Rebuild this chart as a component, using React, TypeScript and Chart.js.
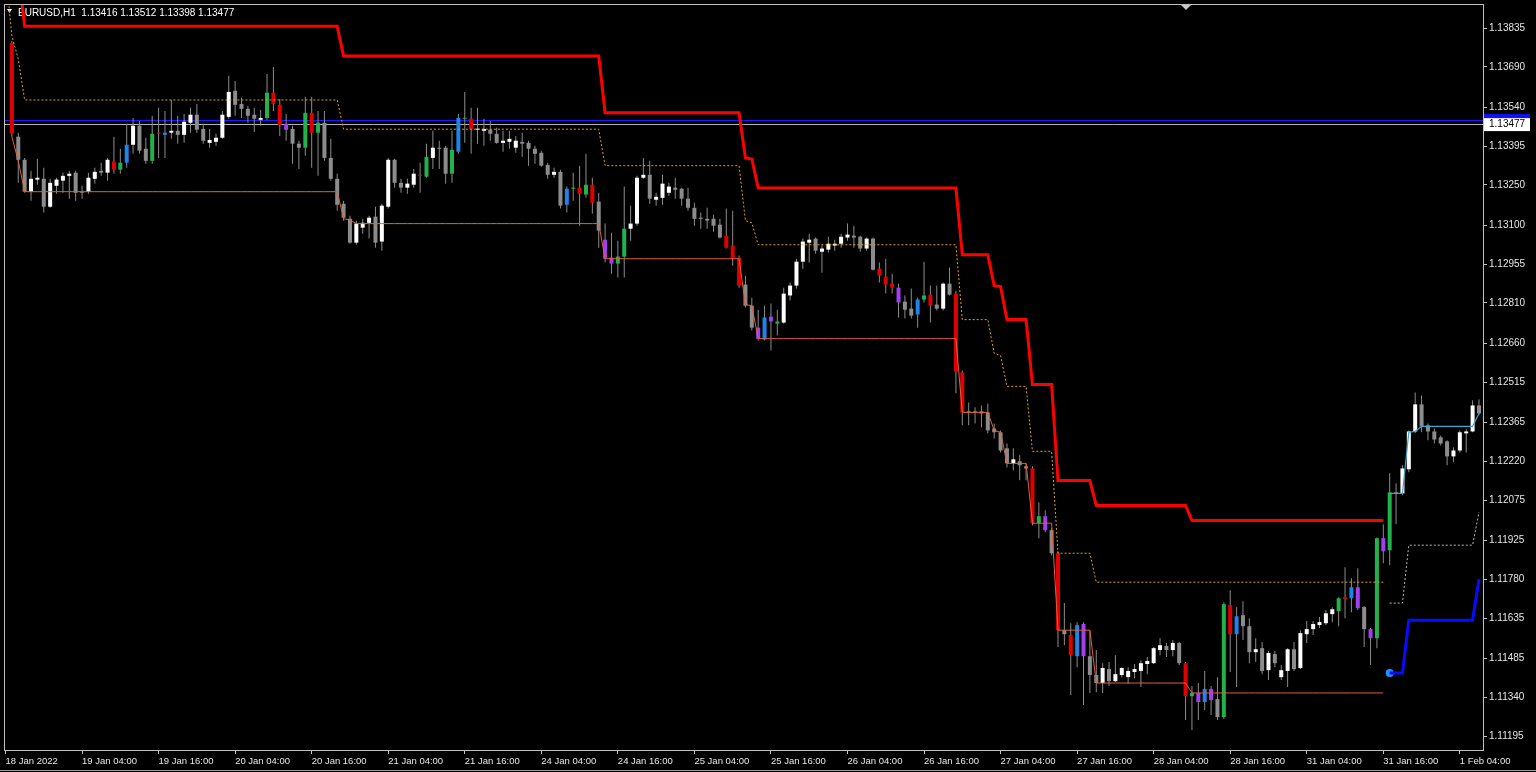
import React, { useEffect, useRef } from 'react';
import { Chart, registerables } from 'chart.js';

Chart.register(...registerables);

// ---------- data ----------
const TITLE = 'EURUSD,H1  1.13416 1.13512 1.13398 1.13477';
const FIRST_BAR = 1; // bar index of first entry in the candle arrays (bar 0 is hidden under the frame)

const opens = [
  1.13780, 1.13430, 1.13344, 1.13225, 1.13270, 1.13273, 1.13169, 1.13247, 1.13266, 1.13284,
  1.13296, 1.13225, 1.13225, 1.13273, 1.13303, 1.13296, 1.13337, 1.13307, 1.13333, 1.13400,
  1.13471, 1.13385, 1.13340, 1.13445, 1.13445, 1.13445, 1.13452, 1.13437, 1.13482, 1.13512,
  1.13459, 1.13407, 1.13411, 1.13426, 1.13504, 1.13601, 1.13552, 1.13534, 1.13512, 1.13493,
  1.13500, 1.13594, 1.13549, 1.13478, 1.13459, 1.13404, 1.13389, 1.13519, 1.13445, 1.13482,
  1.13351, 1.13273, 1.13180, 1.13124, 1.13035, 1.13091, 1.13109, 1.13132, 1.13039, 1.13169,
  1.13344, 1.13258, 1.13240, 1.13251, 1.13288, 1.13281, 1.13351, 1.13389, 1.13389, 1.13292,
  1.13374, 1.13497, 1.13497, 1.13456, 1.13452, 1.13456, 1.13441, 1.13407, 1.13411, 1.13389,
  1.13411, 1.13407, 1.13385, 1.13370, 1.13325, 1.13288, 1.13299, 1.13176, 1.13236, 1.13240,
  1.13214, 1.13251, 1.13188, 1.13046, 1.12979, 1.12957, 1.12983, 1.13087, 1.13106, 1.13277,
  1.13288, 1.13195, 1.13202, 1.13221, 1.13240, 1.13236, 1.13199, 1.13165, 1.13128, 1.13124,
  1.13124, 1.13102, 1.13061, 1.13024, 1.12979, 1.12879, 1.12800, 1.12718, 1.12674, 1.12759,
  1.12733, 1.12737, 1.12838, 1.12875, 1.12964, 1.13035, 1.13050, 1.13001, 1.13009, 1.13024,
  1.13031, 1.13054, 1.13061, 1.13057, 1.13013, 1.13050, 1.12938, 1.12908, 1.12882, 1.12867,
  1.12815, 1.12789, 1.12767, 1.12823, 1.12841, 1.12804, 1.12789, 1.12882, 1.12845, 1.12551,
  1.12406, 1.12406, 1.12406, 1.12402, 1.12342, 1.12328, 1.12268, 1.12212, 1.12220, 1.12201,
  1.12193, 1.11989, 1.12015, 1.11963, 1.11877, 1.11590, 1.11572, 1.11493, 1.11613, 1.11493,
  1.11423, 1.11393, 1.11445, 1.11400, 1.11423, 1.11415, 1.11434, 1.11438, 1.11464, 1.11467,
  1.11516, 1.11531, 1.11516, 1.11542, 1.11467, 1.11344, 1.11356, 1.11322, 1.11371, 1.11333,
  1.11266, 1.11683, 1.11575, 1.11646, 1.11605, 1.11508, 1.11523, 1.11441, 1.11501, 1.11415,
  1.11438, 1.11519, 1.11449, 1.11575, 1.11594, 1.11609, 1.11616, 1.11650, 1.11661, 1.11713,
  1.11709, 1.11750, 1.11676, 1.11594, 1.11560, 1.11933, 1.11888, 1.12104, 1.12100, 1.12190,
  1.12331, 1.12432, 1.12354, 1.12331, 1.12309, 1.12294, 1.12238, 1.12260, 1.12324, 1.12331,
  1.12428,
];

const highs = [
  1.13787, 1.13445, 1.13351, 1.13303, 1.13348, 1.13314, 1.13273, 1.13277, 1.13296, 1.13303,
  1.13303, 1.13247, 1.13296, 1.13314, 1.13333, 1.13351, 1.13430, 1.13385, 1.13478, 1.13500,
  1.13489, 1.13426, 1.13508, 1.13538, 1.13526, 1.13567, 1.13508, 1.13515, 1.13538, 1.13552,
  1.13478, 1.13459, 1.13441, 1.13526, 1.13657, 1.13638, 1.13575, 1.13545, 1.13538, 1.13530,
  1.13664, 1.13690, 1.13571, 1.13515, 1.13471, 1.13415, 1.13579, 1.13579, 1.13526, 1.13526,
  1.13422, 1.13292, 1.13191, 1.13135, 1.13117, 1.13124, 1.13135, 1.13169, 1.13180, 1.13351,
  1.13348, 1.13273, 1.13273, 1.13310, 1.13333, 1.13404, 1.13452, 1.13415, 1.13396, 1.13452,
  1.13515, 1.13597, 1.13538, 1.13538, 1.13497, 1.13489, 1.13463, 1.13452, 1.13452, 1.13433,
  1.13445, 1.13415, 1.13396, 1.13378, 1.13333, 1.13314, 1.13307, 1.13244, 1.13296, 1.13322,
  1.13366, 1.13277, 1.13221, 1.13106, 1.13072, 1.13042, 1.13244, 1.13173, 1.13284, 1.13351,
  1.13340, 1.13221, 1.13288, 1.13258, 1.13277, 1.13240, 1.13240, 1.13184, 1.13147, 1.13165,
  1.13139, 1.13124, 1.13162, 1.13154, 1.12987, 1.12912, 1.12830, 1.12785, 1.12800, 1.12808,
  1.12785, 1.12867, 1.12886, 1.12975, 1.13050, 1.13068, 1.13054, 1.13024, 1.13057, 1.13046,
  1.13068, 1.13106, 1.13098, 1.13061, 1.13054, 1.13054, 1.12961, 1.12975, 1.12919, 1.12882,
  1.12838, 1.12864, 1.12830, 1.12964, 1.12875, 1.12875, 1.12886, 1.12942, 1.12856, 1.12558,
  1.12439, 1.12421, 1.12428, 1.12435, 1.12361, 1.12335, 1.12286, 1.12268, 1.12242, 1.12212,
  1.12201, 1.12067, 1.12037, 1.11970, 1.11884, 1.11691, 1.11616, 1.11620, 1.11620, 1.11590,
  1.11516, 1.11467, 1.11471, 1.11497, 1.11452, 1.11452, 1.11464, 1.11478, 1.11490, 1.11527,
  1.11560, 1.11542, 1.11553, 1.11546, 1.11471, 1.11382, 1.11393, 1.11438, 1.11382, 1.11415,
  1.11694, 1.11739, 1.11676, 1.11698, 1.11635, 1.11560, 1.11546, 1.11512, 1.11512, 1.11460,
  1.11523, 1.11546, 1.11590, 1.11624, 1.11624, 1.11639, 1.11665, 1.11676, 1.11713, 1.11825,
  1.11784, 1.11821, 1.11680, 1.11598, 1.11936, 1.11985, 1.12175, 1.12138, 1.12205, 1.12335,
  1.12476, 1.12465, 1.12361, 1.12342, 1.12316, 1.12298, 1.12272, 1.12335, 1.12339, 1.12447,
  1.12450,
];

const lows = [
  1.13430, 1.13258, 1.13221, 1.13191, 1.13251, 1.13147, 1.13165, 1.13217, 1.13221, 1.13199,
  1.13191, 1.13199, 1.13217, 1.13255, 1.13284, 1.13266, 1.13292, 1.13292, 1.13314, 1.13366,
  1.13366, 1.13329, 1.13329, 1.13351, 1.13351, 1.13422, 1.13404, 1.13407, 1.13445, 1.13445,
  1.13404, 1.13389, 1.13396, 1.13422, 1.13497, 1.13508, 1.13500, 1.13482, 1.13448, 1.13471,
  1.13493, 1.13526, 1.13433, 1.13415, 1.13329, 1.13310, 1.13359, 1.13314, 1.13284, 1.13340,
  1.13266, 1.13154, 1.13117, 1.13031, 1.13027, 1.13068, 1.13050, 1.13016, 1.13005, 1.13162,
  1.13240, 1.13221, 1.13217, 1.13240, 1.13221, 1.13277, 1.13310, 1.13310, 1.13255, 1.13258,
  1.13366, 1.13407, 1.13366, 1.13404, 1.13396, 1.13415, 1.13404, 1.13374, 1.13385, 1.13370,
  1.13355, 1.13322, 1.13329, 1.13318, 1.13273, 1.13277, 1.13162, 1.13147, 1.13191, 1.13098,
  1.13202, 1.13143, 1.13016, 1.12961, 1.12919, 1.12905, 1.12905, 1.13042, 1.13098, 1.13273,
  1.13180, 1.13173, 1.13176, 1.13210, 1.13199, 1.13173, 1.13154, 1.13098, 1.13087, 1.13087,
  1.13076, 1.13050, 1.13013, 1.12949, 1.12867, 1.12793, 1.12707, 1.12670, 1.12670, 1.12633,
  1.12689, 1.12733, 1.12819, 1.12864, 1.12938, 1.12961, 1.12994, 1.12923, 1.12998, 1.13005,
  1.13016, 1.13042, 1.13016, 1.13001, 1.13005, 1.12931, 1.12886, 1.12845, 1.12845, 1.12756,
  1.12752, 1.12752, 1.12718, 1.12812, 1.12737, 1.12782, 1.12782, 1.12838, 1.12473, 1.12354,
  1.12354, 1.12361, 1.12346, 1.12324, 1.12305, 1.12253, 1.12197, 1.12186, 1.12149, 1.12149,
  1.11981, 1.11933, 1.11955, 1.11869, 1.11527, 1.11534, 1.11348, 1.11452, 1.11311, 1.11356,
  1.11359, 1.11356, 1.11382, 1.11397, 1.11415, 1.11389, 1.11411, 1.11378, 1.11426, 1.11464,
  1.11497, 1.11490, 1.11493, 1.11460, 1.11255, 1.11218, 1.11255, 1.11292, 1.11274, 1.11255,
  1.11259, 1.11434, 1.11378, 1.11553, 1.11467, 1.11471, 1.11426, 1.11404, 1.11452, 1.11404,
  1.11378, 1.11438, 1.11445, 1.11542, 1.11572, 1.11598, 1.11609, 1.11620, 1.11605, 1.11635,
  1.11657, 1.11665, 1.11527, 1.11460, 1.11523, 1.11840, 1.11832, 1.11985, 1.12093, 1.12179,
  1.12324, 1.12328, 1.12298, 1.12286, 1.12279, 1.12205, 1.12216, 1.12253, 1.12253, 1.12328,
  1.12391,
];

const closes = [
  1.13441, 1.13344, 1.13225, 1.13273, 1.13277, 1.13169, 1.13258, 1.13270, 1.13284, 1.13292,
  1.13221, 1.13221, 1.13277, 1.13299, 1.13296, 1.13344, 1.13307, 1.13333, 1.13400, 1.13471,
  1.13378, 1.13340, 1.13441, 1.13441, 1.13437, 1.13452, 1.13437, 1.13486, 1.13512, 1.13456,
  1.13415, 1.13418, 1.13426, 1.13512, 1.13597, 1.13549, 1.13534, 1.13508, 1.13497, 1.13500,
  1.13594, 1.13552, 1.13474, 1.13456, 1.13404, 1.13389, 1.13519, 1.13445, 1.13482, 1.13351,
  1.13273, 1.13176, 1.13128, 1.13035, 1.13106, 1.13109, 1.13128, 1.13035, 1.13173, 1.13344,
  1.13258, 1.13240, 1.13255, 1.13292, 1.13284, 1.13355, 1.13389, 1.13385, 1.13292, 1.13381,
  1.13500, 1.13500, 1.13459, 1.13459, 1.13459, 1.13441, 1.13407, 1.13415, 1.13422, 1.13415,
  1.13404, 1.13385, 1.13366, 1.13322, 1.13288, 1.13299, 1.13173, 1.13236, 1.13240, 1.13217,
  1.13251, 1.13184, 1.13080, 1.12975, 1.12957, 1.12983, 1.13087, 1.13106, 1.13277, 1.13288,
  1.13199, 1.13206, 1.13255, 1.13244, 1.13232, 1.13199, 1.13165, 1.13124, 1.13124, 1.13117,
  1.13098, 1.13054, 1.13016, 1.12975, 1.12875, 1.12800, 1.12718, 1.12677, 1.12756, 1.12741,
  1.12741, 1.12845, 1.12875, 1.12964, 1.13039, 1.13046, 1.13005, 1.13013, 1.13031, 1.13031,
  1.13057, 1.13065, 1.13054, 1.13013, 1.13050, 1.12934, 1.12912, 1.12879, 1.12867, 1.12812,
  1.12785, 1.12763, 1.12823, 1.12838, 1.12800, 1.12789, 1.12882, 1.12841, 1.12555, 1.12402,
  1.12402, 1.12402, 1.12398, 1.12335, 1.12328, 1.12260, 1.12212, 1.12227, 1.12205, 1.12193,
  1.11989, 1.12015, 1.11963, 1.11877, 1.11590, 1.11575, 1.11497, 1.11609, 1.11493, 1.11423,
  1.11393, 1.11449, 1.11400, 1.11426, 1.11449, 1.11438, 1.11445, 1.11467, 1.11475, 1.11523,
  1.11534, 1.11516, 1.11542, 1.11467, 1.11344, 1.11356, 1.11322, 1.11371, 1.11330, 1.11266,
  1.11687, 1.11575, 1.11642, 1.11605, 1.11508, 1.11519, 1.11438, 1.11505, 1.11467, 1.11441,
  1.11519, 1.11445, 1.11579, 1.11594, 1.11613, 1.11620, 1.11653, 1.11668, 1.11709, 1.11706,
  1.11750, 1.11672, 1.11594, 1.11560, 1.11933, 1.11884, 1.12104, 1.12100, 1.12193, 1.12331,
  1.12432, 1.12350, 1.12331, 1.12301, 1.12286, 1.12238, 1.12260, 1.12328, 1.12331, 1.12428,
  1.12398,
];

// candle kinds: W = up (white), G = down (gray), r/g/b/p = highlighted red/green/blue/purple
const kindRows = [
  'rGGWWGWWWW', 'GGWWGWrgbW', 'GGgrbWGWWG', 'GWWWWGGGGW', 'grrpGGgrgG',
  'GGGGWWWGWW', 'GGWWrgWGGg', 'bgrWWGGWWW', 'GGGGGWGbgr', 'grGppggWWW',
  'GWWWGGGGGG', 'GGrrrGGpbp', 'gWWWWWGWWW', 'WWGGWGrrrp', 'GGbgrGWGrr',
  'GGGGGGGWGG', 'rgpGrGrbpG', 'GWGWWWWWWW', 'WGWGrgpbpG', 'grbGGWGWGW',
  'WGWWWWWWgr', 'bpGpgpgGWW', 'WGGGGGWWWW', 'G',
];

// indicator step levels: [fromBar, toBar, price]
const resistanceSteps = [
  [2, 2, 1.14050], [3, 52, 1.13842], [53, 93, 1.13731], [94, 115, 1.13519],
  [116, 116, 1.13351], [117, 117, 1.13347], [118, 149, 1.13239], [150, 154, 1.12990],
  [155, 155, 1.12874], [156, 156, 1.12871], [157, 160, 1.12748], [161, 164, 1.12506],
  [165, 170, 1.12148], [171, 185, 1.12055], [186, 216, 1.11999],
];
const midSteps = [
  [0, 0, 1.14050], [1, 1, 1.13806], [2, 2, 1.13720], [3, 52, 1.13567], [53, 93, 1.13458],
  [94, 115, 1.13322], [116, 116, 1.13117], [117, 117, 1.13109], [118, 149, 1.13027],
  [150, 154, 1.12748], [155, 155, 1.12622], [156, 156, 1.12614], [157, 160, 1.12499],
  [161, 164, 1.12257], [165, 170, 1.11877], [171, 216, 1.11769],
];
const supportSteps = [
  [1, 1, 1.13430], [2, 2, 1.13340], [3, 52, 1.13225], [53, 53, 1.13124], [54, 54, 1.13120],
  [55, 93, 1.13106], [94, 115, 1.12975], [116, 116, 1.12804], [117, 117, 1.12800],
  [118, 149, 1.12677], [150, 154, 1.12402], [155, 155, 1.12335], [156, 156, 1.12328],
  [157, 160, 1.12212], [161, 164, 1.11989], [165, 170, 1.11590], [171, 185, 1.11393],
  [186, 216, 1.11356],
];
const upMidSteps = [[217, 219, 1.11691], [220, 230, 1.11907], [231, 231, 1.12030]];
const upSupportSteps = [[217, 219, 1.11430], [220, 230, 1.11627], [231, 231, 1.11780]];
const upResistSteps = [
  [217, 219, 1.12100], [220, 220, 1.12328], [221, 221, 1.12331], [222, 230, 1.12350], [231, 231, 1.12398],
];
const signalBar = 217;
const signalPrice = 1.11430;

const BID = 1.13477;
const ASK = 1.13493;

const yTickValues = [
  1.13835, 1.13690, 1.13540, 1.13395, 1.13250, 1.13100, 1.12955, 1.12810, 1.12660, 1.12515,
  1.12365, 1.12220, 1.12075, 1.11925, 1.11780, 1.11635, 1.11485, 1.11340, 1.11195,
];
const xTickBars = [0, 12, 24, 36, 48, 60, 72, 84, 96, 108, 120, 132, 144, 156, 168, 180, 192, 204, 216, 228];
const xTickLabels = [
  '18 Jan 2022', '19 Jan 04:00', '19 Jan 16:00', '20 Jan 04:00', '20 Jan 16:00', '21 Jan 04:00',
  '21 Jan 16:00', '24 Jan 04:00', '24 Jan 16:00', '25 Jan 04:00', '25 Jan 16:00', '26 Jan 04:00',
  '26 Jan 16:00', '27 Jan 04:00', '27 Jan 16:00', '28 Jan 04:00', '28 Jan 16:00', '31 Jan 04:00',
  '31 Jan 16:00', '1 Feb 04:00',
];

// view range
const X_MIN = -0.235;
const X_MAX = 231.63;
const Y_MIN = 1.111433;
const Y_MAX = 1.139248;

// ---------- styles ----------
const KIND_COLORS: Record<string, string> = {
  W: '#ffffff', G: '#8c8c8c', r: '#e00000', g: '#22b24c', b: '#1e84e8', p: '#a040f0',
};
const WICK = '#8c8c8c';
const FG = '#e6e6e6';
const FONT = 'Liberation Sans';

function expandSteps(steps: number[][]) {
  const pts: { x: number; y: number }[] = [];
  for (const [a, b, v] of steps) for (let x = a; x <= b; x++) pts.push({ x, y: v });
  return pts;
}

const mtPlugin = {
  id: 'mt4deco',
  beforeDraw(chart: any) {
    const { ctx, width, height } = chart;
    ctx.save();
    ctx.fillStyle = '#000000';
    ctx.fillRect(0, 0, width, height);
    ctx.restore();
  },
  beforeDatasetsDraw(chart: any) {
    const { ctx, chartArea: ca, scales } = chart;
    const y = scales.y;
    ctx.save();
    // title
    ctx.fillStyle = '#ffffff';
    ctx.font = `10px "${FONT}"`;
    ctx.textBaseline = 'alphabetic';
    ctx.textAlign = 'left';
    ctx.fillText(TITLE, 18, 16);
    ctx.beginPath();
    ctx.moveTo(7, 9);
    ctx.lineTo(12, 9);
    ctx.lineTo(9.5, 13);
    ctx.closePath();
    ctx.fill();
    // ask + bid lines
    const ya = Math.round(y.getPixelForValue(ASK)) + 0.5;
    const yb = Math.round(y.getPixelForValue(BID)) + 0.5;
    ctx.lineWidth = 1;
    ctx.strokeStyle = '#1a1aff';
    ctx.beginPath();
    ctx.moveTo(ca.left, ya);
    ctx.lineTo(ca.right, ya);
    ctx.stroke();
    ctx.strokeStyle = '#b4b4b4';
    ctx.beginPath();
    ctx.moveTo(ca.left, yb);
    ctx.lineTo(ca.right, yb);
    ctx.stroke();
    ctx.restore();
  },
  afterDraw(chart: any) {
    const { ctx, chartArea: ca, scales, width } = chart;
    const y = scales.y;
    ctx.save();
    // frame
    ctx.strokeStyle = '#c0c0c0';
    ctx.lineWidth = 1;
    ctx.strokeRect(ca.left + 0.5, ca.top + 0.5, ca.right - ca.left, ca.bottom - ca.top);
    // shift marker
    ctx.fillStyle = '#c8c8c8';
    ctx.beginPath();
    ctx.moveTo(1181, ca.top + 1);
    ctx.lineTo(1191, ca.top + 1);
    ctx.lineTo(1186, ca.top + 6);
    ctx.closePath();
    ctx.fill();
    // bid label
    const yb = y.getPixelForValue(BID);
    ctx.fillStyle = '#1010ff';
    ctx.fillRect(ca.right + 1, yb - 10, 46, 4);
    ctx.fillStyle = '#ffffff';
    ctx.fillRect(ca.right + 1, yb - 6, 46, 13);
    ctx.fillStyle = '#000000';
    ctx.font = `10px "${FONT}"`;
    ctx.textBaseline = 'middle';
    ctx.textAlign = 'left';
    ctx.fillText(BID.toFixed(5), ca.right + 6, yb + 0.5);
    // bottom window edge
    ctx.strokeStyle = '#9a9a9a';
    ctx.beginPath();
    ctx.moveTo(0, 770.5);
    ctx.lineTo(width, 770.5);
    ctx.stroke();
    ctx.restore();
  },
};

export default function App() {
  const ref = useRef<HTMLCanvasElement>(null);

  useEffect(() => {
    document.body.style.margin = '0';
    document.body.style.background = '#000';
    const bars = opens.map((_, i) => FIRST_BAR + i);
    const kinds = kindRows.join('').split('');
    const wickData = bars.map((b, i) => ({ x: b, y: [lows[i], highs[i]] }));
    const bodyData = bars.map((b, i) => ({ x: b, y: [opens[i], closes[i]] }));
    const bodyColors = kinds.map((k) => KIND_COLORS[k] || KIND_COLORS.G);

    const lineBase = { type: 'line', pointRadius: 0, tension: 0, fill: false, order: 0, borderJoinStyle: 'miter' };

    const chart = new Chart(ref.current as HTMLCanvasElement, {
      type: 'bar',
      data: {
        datasets: [
          { type: 'bar', data: wickData, backgroundColor: WICK, borderWidth: 0, grouped: false, maxBarThickness: 1, order: 3 },
          { type: 'bar', data: bodyData, backgroundColor: bodyColors, borderWidth: 0, grouped: false, maxBarThickness: 4, minBarLength: 1, order: 2 },
          { ...lineBase, data: expandSteps(midSteps), borderColor: '#e0a020', borderWidth: 1, borderDash: [2, 2] },
          { ...lineBase, data: expandSteps(upMidSteps), borderColor: '#b8b8b8', borderWidth: 1, borderDash: [2, 2] },
          { ...lineBase, data: expandSteps(supportSteps), borderColor: '#e0603c', borderWidth: 1 },
          { ...lineBase, data: expandSteps(upResistSteps), borderColor: '#3aa6d2', borderWidth: 1.2 },
          { ...lineBase, data: expandSteps(resistanceSteps), borderColor: '#ff0000', borderWidth: 3 },
          { ...lineBase, data: expandSteps(upSupportSteps), borderColor: '#0a0aff', borderWidth: 3 },
          { type: 'line', data: [{ x: signalBar, y: signalPrice }], showLine: false, pointRadius: 4, pointBackgroundColor: '#1e90ff', pointBorderWidth: 0, order: 0 },
        ] as any,
      },
      options: {
        responsive: false,
        animation: false,
        devicePixelRatio: 1,
        events: [],
        layout: { padding: { left: 3, top: 3, right: 0, bottom: 0 } },
        plugins: { legend: { display: false }, tooltip: { enabled: false }, title: { display: false } },
        scales: {
          x: {
            type: 'linear',
            min: X_MIN,
            max: X_MAX,
            offset: false,
            bounds: 'data',
            afterBuildTicks: (s: any) => { s.ticks = xTickBars.map((v) => ({ value: v })); },
            afterFit: (s: any) => { s.height = 22; s.paddingLeft = 0; s.paddingRight = 0; },
            ticks: {
              autoSkip: false,
              maxRotation: 0,
              minRotation: 0,
              align: 'start',
              padding: 2,
              color: FG,
              font: { family: FONT, size: 9.5 },
              callback: (_v: any, i: number) => xTickLabels[i],
            },
            grid: { drawOnChartArea: false, offset: false, color: '#c0c0c0', tickLength: 4 },
            border: { display: false },
          },
          y: {
            type: 'linear',
            position: 'right',
            min: Y_MIN,
            max: Y_MAX,
            beginAtZero: false,
            bounds: 'data',
            afterBuildTicks: (s: any) => { s.ticks = yTickValues.map((v) => ({ value: v })); },
            afterFit: (s: any) => { s.width = 53; s.paddingTop = 0; s.paddingBottom = 0; },
            ticks: {
              autoSkip: false,
              padding: 2,
              color: FG,
              font: { family: FONT, size: 10 },
              callback: (v: any) => Number(v).toFixed(5),
            },
            grid: { drawOnChartArea: false, color: '#c0c0c0', tickLength: 4 },
            border: { display: false },
          },
        },
      } as any,
      plugins: [mtPlugin],
    });
    return () => chart.destroy();
  }, []);

  return (
    <div style={{ position: 'fixed', left: 0, top: 0, width: 1536, height: 772, background: '#000' }}>
      <canvas ref={ref} width={1536} height={772} style={{ display: 'block', width: 1536, height: 772 }} />
    </div>
  );
}
